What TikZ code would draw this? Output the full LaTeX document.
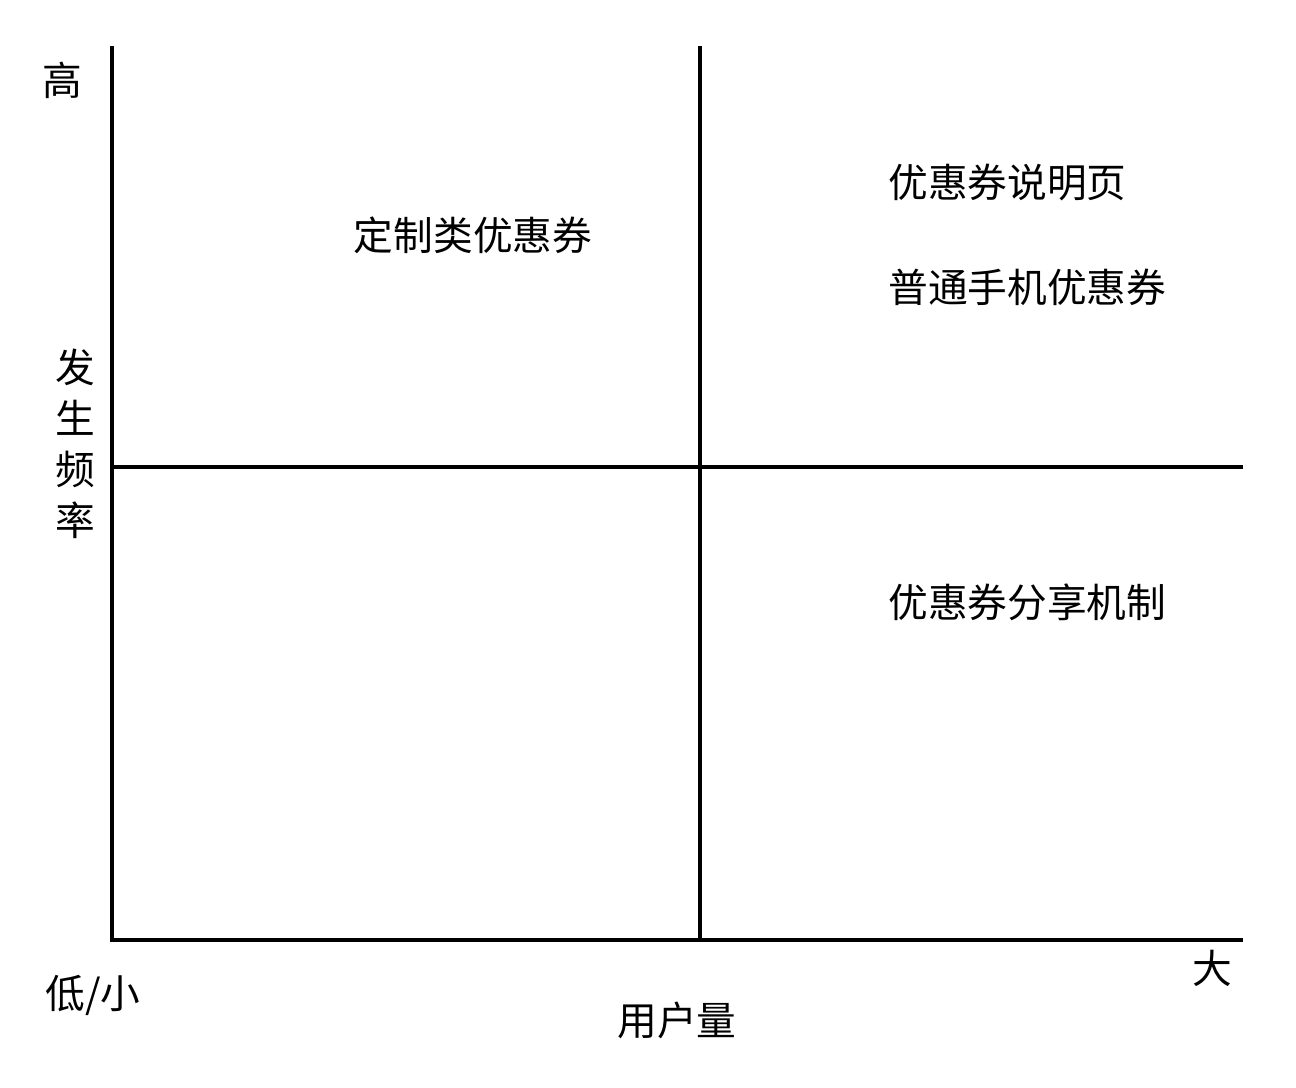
\documentclass[tikz,border=0pt]{standalone}
\usepackage{fontspec}
\setmainfont{Noto Sans CJK SC}
\tikzset{
  axisline/.style={line width=0.09cm, line join=miter},
  quadtext/.style={inner sep=0pt, font=\fontsize{22.6pt}{22.6pt}\selectfont},
}

\begin{document}
\begin{tikzpicture}[x=0.02cm, y=-0.02cm]%
\useasboundingbox (0,0) rectangle (1296,1088);%
% axes and quadrant lines
\coordinate (origin) at (112,940);%
\coordinate (ytop) at (112,46);%
\coordinate (xend) at (1243,940);%
\coordinate (midtop) at (700,46);%
\coordinate (midbot) at (700,940);%
\coordinate (midleft) at (112,467);%
\coordinate (midright) at (1243,467);%
\draw[axisline] (ytop) -- (origin) -- (xend);%
\draw[axisline] (midtop) -- (midbot);%
\draw[axisline] (midleft) -- (midright);%
% axis labels
\node[quadtext] (high) at (62,80) {高};%
\node[quadtext, align=center, font=\fontsize{22.6pt}{29pt}\selectfont] (freq) at (75,444) {发\\生\\频\\率};%
\node[quadtext, anchor=west] (low) at (45,995) {低/小};%
\node[quadtext] (big) at (1212,968) {大};%
\node[quadtext] (users) at (677,1020) {用户量};%
% quadrant items
\node[quadtext] (custom) at (473,235) {定制类优惠券};%
\node[quadtext, anchor=west] (explain) at (888,182) {优惠券说明页};%
\node[quadtext, anchor=west] (phone) at (888,287) {普通手机优惠券};%
\node[quadtext, anchor=west] (share) at (888,602) {优惠券分享机制};%
\end{tikzpicture}
\end{document}
